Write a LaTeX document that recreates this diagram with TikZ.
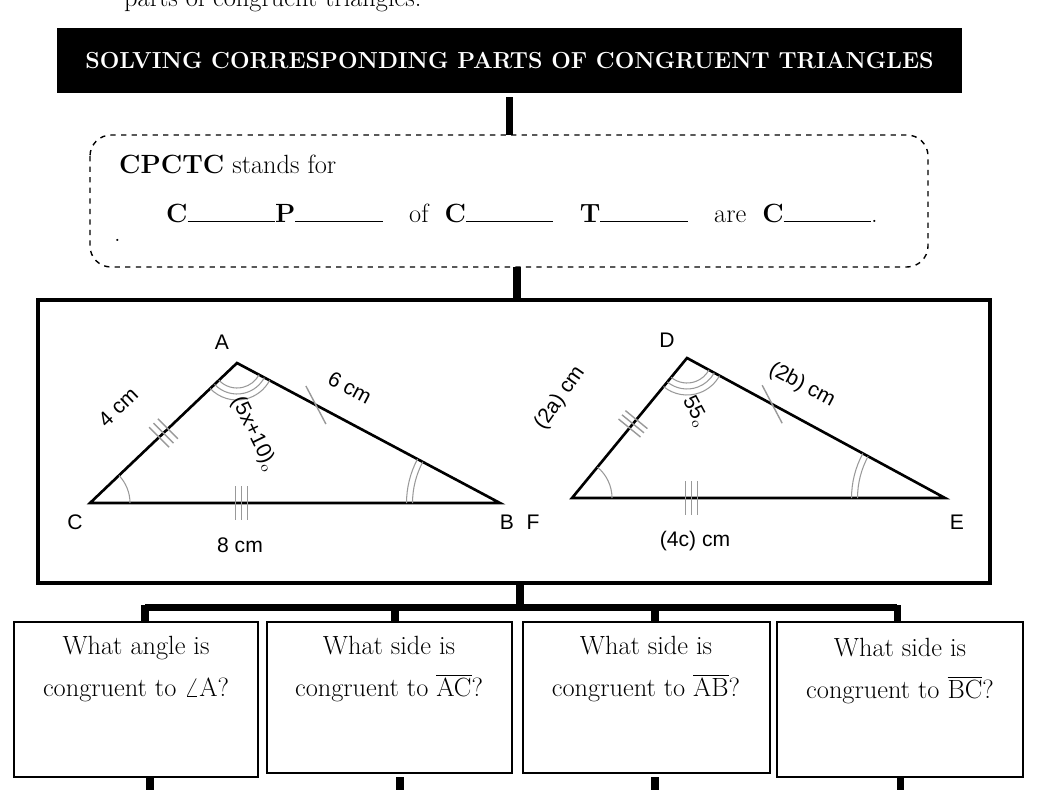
\documentclass[tikz,border=0pt]{standalone}
\usepackage{fontspec}
\newfontfamily\trifont{Liberation Sans}
\usetikzlibrary{angles,calc}

\tikzset{
  link/.style={line width=4pt},
  qbox/.style={draw, line width=0.8pt},
  qtext/.style={font=\fontsize{15}{18}\selectfont},
  trilabel/.style={font=\trifont\fontsize{12}{14}\selectfont},
  tick/.style={gray!80, line width=0.8pt},
  mark arc/.style={draw, gray!80, line width=0.6pt}
}

\begin{document}
\begin{tikzpicture}[x=0.02cm, y=-0.02cm]
  \useasboundingbox (0,0) rectangle (1053,789);
  \clip (0,0) rectangle (1053,789);
  \node [qtext, anchor=west] (intro) at (118,0) {parts of congruent triangles.};

  % title
  \node [fill=black, text=white, minimum width=18.1cm, minimum height=1.3cm,
    font=\bfseries\fontsize{13.2}{16}\selectfont] (title) at (509.5,60.5)
    {SOLVING CORRESPONDING PARTS OF CONGRUENT TRIANGLES};

  % cpctc box
  \draw [dashed, rounded corners=12pt, line width=0.8pt] (90,135) rectangle (928,267);
  \coordinate (dtop) at (510,135);
  \coordinate (dbot) at (517,267);
  \draw [link] (title.south) ++(0,4) coordinate (t1) -- (t1 |- dtop);
  \node [qtext, anchor=west] (stands) at (113,164) {\textbf{CPCTC} stands for};
  \node [qtext, anchor=west] (blanks) at (160,213)
    {\textbf{C}\rule{1.75cm}{0.4pt}\textbf{P}\rule{1.75cm}{0.4pt}\quad of\ \ \textbf{C}\rule{1.75cm}{0.4pt}\quad
     \textbf{T}\rule{1.75cm}{0.4pt}\quad are\ \ \textbf{C}\rule{1.75cm}{0.4pt}.};
  \node [qtext, anchor=west] (dot) at (108,240) {.};

  % triangle frame
  \draw [line width=2.5pt] (38,300) rectangle (990,583);
  \coordinate (ftop) at (517,300);
  \draw [link] (dbot) -- (ftop);

  % first triangle
  \coordinate (A) at (237,363);
  \coordinate (C) at (90,503);
  \coordinate (B) at (500,503);
  \draw [line width=1.5pt] (A) -- (B) -- (C) -- cycle;
  \node [trilabel] (lA) at (222,342) {A};
  \node [trilabel] (lC) at (75,522) {C};
  \node [trilabel] (lB) at (507,522) {B};
  \foreach \r in {0.5cm,0.62cm,0.74cm}
    \pic [mark arc, angle radius=\r] {angle=C--A--B};
  \pic [mark arc, angle radius=0.8cm] {angle=B--C--A};
  \foreach \r in {1.75cm,1.87cm}
    \pic [mark arc, angle radius=\r] {angle=A--B--C};
  \foreach \p in {0.47,0.5,0.53}
    \draw [tick] ($(C)!\p!(A)$) ++(-10,-10) -- ++(20,20);
  \draw [tick] ($(A)!0.3!(B)$) ++(-10,-19) -- ++(20,38);
  \foreach \d in {-6,0,6}
    \draw [tick] ($(C)!0.37!(B)+(\d,0)$) ++(0,-17) -- ++(0,34);
  \node [trilabel, rotate=44] (s1) at (118,407) {4 cm};
  \node [trilabel, rotate=-28] (s2) at (350,388) {6 cm};
  \node [trilabel, rotate=-64] (s3) at (254,434) {(5x+10)$_{\mathrm o}$};
  \node [trilabel] (s4) at (240,545) {8 cm};

  % second triangle
  \coordinate (D) at (687,358);
  \coordinate (F) at (572,498);
  \coordinate (E) at (945,498);
  \draw [line width=1.5pt] (D) -- (E) -- (F) -- cycle;
  \node [trilabel] (lD) at (667,340) {D};
  \node [trilabel] (lF) at (533,522) {F};
  \node [trilabel] (lE) at (957,522) {E};
  \foreach \r in {0.5cm,0.62cm,0.74cm}
    \pic [mark arc, angle radius=\r] {angle=F--D--E};
  \pic [mark arc, angle radius=0.8cm] {angle=E--F--D};
  \foreach \r in {1.75cm,1.87cm}
    \pic [mark arc, angle radius=\r] {angle=D--E--F};
  \foreach \p in {0.5,0.53,0.56}
    \draw [tick] ($(F)!\p!(D)$) ++(-11,-9) -- ++(22,18);
  \draw [tick] ($(D)!0.33!(E)$) ++(-10,-19) -- ++(20,38);
  \foreach \d in {-6,0,6}
    \draw [tick] ($(F)!0.32!(E)+(\d,0)$) ++(0,-17) -- ++(0,34);
  \node [trilabel, rotate=55] (t1l) at (560,398) {(2a) cm};
  \node [trilabel, rotate=-28] (t2l) at (802,385) {(2b) cm};
  \node [trilabel, rotate=-62] (t3l) at (695,412) {55$_{\mathrm o}$};
  \node [trilabel] (t4l) at (695,541) {(4c) cm};

  % tree
  \coordinate (fbot) at (520,583);
  \coordinate (bar) at (520,607);
  \draw [link] (fbot) -- (bar);
  \draw [link] (145,607) -- (897,607);

  % question boxes
  \draw [qbox] (14,622) rectangle (258,777);
  \draw [qbox] (267,622) rectangle (512,773);
  \draw [qbox] (523,622) rectangle (770,773);
  \draw [qbox] (777,622) rectangle (1023,777);
  \node [qtext] (q1a) at (136,648) {What angle is};
  \node [qtext] (q1b) at (136,690) {congruent to $\angle$A?};
  \node [qtext] (q2a) at (389,646) {What side is};
  \node [qtext] (q2b) at (389,688) {congruent to $\overline{\mbox{AC}}$?};
  \node [qtext] (q3a) at (646,646) {What side is};
  \node [qtext] (q3b) at (646,688) {congruent to $\overline{\mbox{AB}}$?};
  \node [qtext] (q4a) at (900,648) {What side is};
  \node [qtext] (q4b) at (900,690) {congruent to $\overline{\mbox{BC}}$?};
  \foreach \x in {145,395,655,897}
    \draw [link] (\x,605) -- (\x,622);
  \foreach \x in {150,400,655,900}
    \draw [link] (\x,777) -- (\x,795);
\end{tikzpicture}
\end{document}
